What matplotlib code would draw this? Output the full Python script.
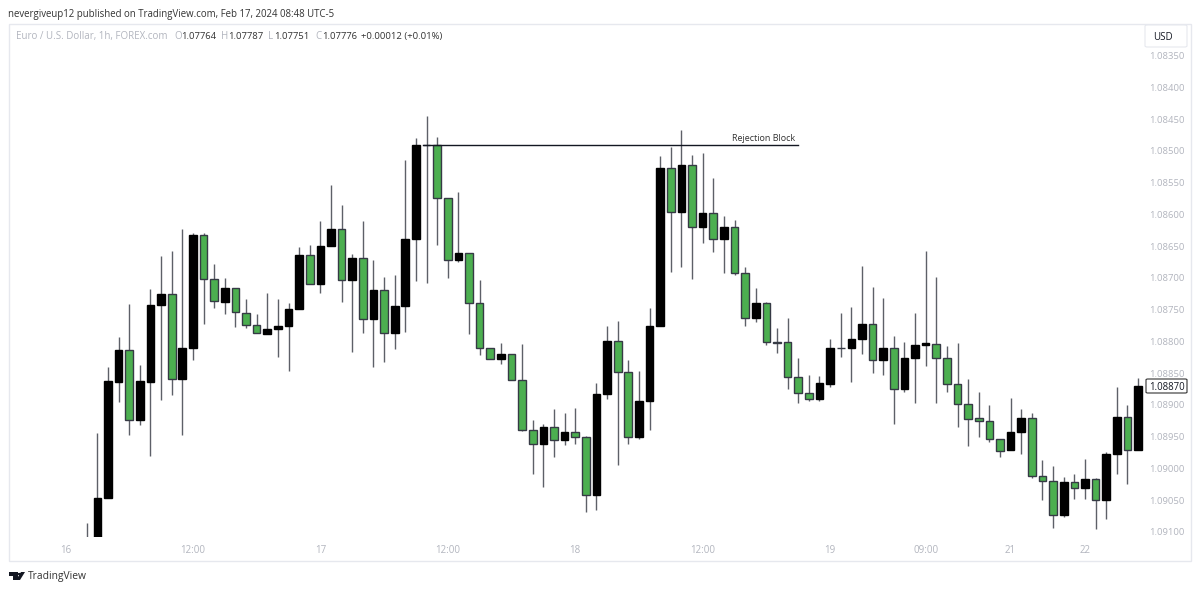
import numpy as np
import matplotlib
matplotlib.use('Agg')
import matplotlib.pyplot as plt
from matplotlib.patches import FancyBboxPatch, Rectangle, Polygon, Circle

plt.rcParams['font.family'] = ['Open Sans', 'DejaVu Sans']

# EUR/USD 1h, prices in 1e-5 units (axis is inverted)
opens = [109129,109113,109047,108864,108813,108924,108864,108742,108725,108859,
         108810,108632,108701,108738,108716,108755,108774,108788,108780,108775,
         108749,108664,108709,108649,108623,108703,108668,108764,108719,108787,
         108744,108638,108490,108490,108574,108671,108660,108739,108810,108827,
         108820,108861,108939,108961,108935,108955,108943,108950,109042,108883,
         108799,108848,108950,108894,108775,108527,108596,108522,108620,108597,
         108638,108620,108692,108763,108739,108801,108801,108856,108881,108891,
         108867,108810,108810,108796,108772,108829,108810,108875,108826,108806,
         108804,108826,108867,108898,108921,108925,108954,108971,108943,108921,
         109012,109020,109073,109021,109031,109017,109050,108977,108919,108971]
highs = [109129,109113,109047,108895,108947,108932,108980,108892,108884,108947,
         108829,108772,108747,108757,108777,108779,108787,108788,108824,108846,
         108749,108709,108723,108649,108738,108816,108787,108840,108832,108812,
         108785,108705,108708,108648,108700,108675,108788,108821,108827,108835,
         108861,108941,109009,109029,108982,108963,108961,109069,109065,108891,
         108995,108961,108954,108939,108775,108690,108683,108701,108645,108659,
         108692,108695,108775,108769,108805,108818,108875,108897,108894,108894,
         108872,108824,108864,108820,108850,108853,108930,108879,108897,108839,
         108897,108879,108935,108965,108950,108958,108982,108971,108977,109015,
         109050,109094,109077,109048,109048,109095,109080,109009,109024,108971]
lows = [109086,108944,108840,108793,108741,108837,108717,108665,108657,108623,
        108629,108629,108678,108700,108716,108733,108757,108723,108733,108739,
        108651,108648,108610,108553,108585,108662,108610,108671,108698,108695,
        108514,108479,108445,108478,108574,108564,108660,108703,108810,108802,
        108820,108804,108924,108930,108906,108913,108905,108949,108865,108775,
        108768,108829,108846,108747,108508,108493,108467,108506,108503,108542,
        108602,108608,108683,108716,108738,108779,108763,108826,108853,108854,
        108796,108755,108746,108681,108714,108731,108791,108801,108755,108657,
        108698,108807,108802,108859,108879,108900,108954,108889,108906,108913,
        108987,108996,109013,109009,108985,109015,108974,108872,108900,108857]
closes = [109113,109047,108862,108813,108924,108862,108742,108725,108859,108810,
          108632,108701,108736,108716,108753,108774,108787,108780,108775,108749,
          108664,108709,108649,108623,108703,108668,108764,108719,108787,108744,
          108638,108490,108491,108574,108671,108660,108739,108810,108827,108820,
          108861,108939,108961,108935,108955,108943,108950,109042,108883,108799,
          108848,108950,108894,108775,108527,108596,108522,108620,108597,108638,
          108620,108692,108763,108739,108801,108802,108856,108881,108891,108865,
          108810,108811,108796,108772,108829,108810,108875,108826,108805,108803,
          108826,108867,108898,108922,108925,108954,108972,108943,108921,109012,
          109020,109073,109021,109031,109017,109050,108977,108919,108971,108870]

time_pos = [-2, 10, 22, 34, 46, 58, 70, 79, 87, 94]
time_labels = ['16', '12:00', '17', '12:00', '18', '12:00', '19', '09:00', '21', '22']
price_ticks = [1.0835, 1.084, 1.0845, 1.085, 1.0855, 1.086, 1.0865, 1.087,
               1.0875, 1.088, 1.0885, 1.089, 1.0895, 1.09, 1.0905, 1.091]
last_price = 1.0887
block_price = 1.0849

def fx(x):
    return x / 1200

def fy(y):
    return 1 - y / 590

fig = plt.figure(figsize=(12, 5.9), dpi=100)

# outer frame
fig.add_artist(Rectangle((fx(8.5), fy(560.5)), fx(1182), 537 / 590, transform=fig.transFigure,
                         fc='white', ec='#e6e8ee', lw=1, zorder=-1))

ax = fig.add_axes([fx(9), fy(537), fx(1135), 513 / 590])
ax.patch.set_alpha(0)
for s in ax.spines.values():
    s.set_visible(False)

o = np.array(opens) / 1e5
h = np.array(highs) / 1e5
l = np.array(lows) / 1e5
c = np.array(closes) / 1e5
x = np.arange(len(o))

ax.vlines(x, l, h, color='#5d6068', lw=1, zorder=2)
cols = ['black' if a > b else '#4caf50' for a, b in zip(o, c)]
edges = ['black' if a > b else '#363a45' for a, b in zip(o, c)]
ax.bar(x, np.abs(c - o), bottom=np.minimum(o, c), width=0.72, color=cols, edgecolor=edges, lw=1, zorder=3)

ax.set_xlim(-7.32, 99.56)
ax.set_ylim(1.09108, 1.08300)

# rejection block line
ax.plot([31.7, 67], [block_price, block_price], color='#131722', lw=1, zorder=4)
ax.text(66.75, block_price - 0.00003, 'Rejection Block', ha='right', va='bottom', fontsize=6.5, color='#333333')

ax.yaxis.tick_right()
ax.set_yticks(price_ticks)
ax.set_yticklabels(['%.5f' % p for p in price_ticks])
ax.tick_params(axis='y', length=0, pad=3.5, labelsize=6.8, labelcolor='#b2b5be')
ax.set_xticks(time_pos)
ax.set_xticklabels(time_labels)
ax.tick_params(axis='x', length=0, pad=6, labelsize=7, labelcolor='#b2b5be')

# last price tag
fig.add_artist(FancyBboxPatch((fx(1146), fy(393)), fx(41), 14 / 590, transform=fig.transFigure,
                              boxstyle='round,pad=0,rounding_size=0.0015', fc='white', ec='#333333', lw=0.8, zorder=2.5))
fig.text(fx(1149), fy(387.5), '%.5f' % last_price, fontsize=6.9, color='#131722', va='center', zorder=3)
fig.add_artist(FancyBboxPatch((fx(1145), fy(47)), fx(42), 22 / 590, transform=fig.transFigure,
                              boxstyle='round,pad=0,rounding_size=0.002', fc='white', ec='#e6e8ee', lw=0.8))
fig.text(fx(1153), fy(37.5), 'USD', fontsize=7, color='#131722', va='center')

# header texts
fig.text(fx(8), fy(14.5), 'nevergiveup12 published on TradingView.com, Feb 17, 2024 08:48 UTC-5',
         fontsize=6.9, color='#333333', va='center')
fig.text(fx(16), fy(36.5), 'Euro / U.S. Dollar, 1h, FOREX.com', fontsize=7, color='#b2b5be', va='center')
for xp, t in [(174, 'O'), (221, 'H'), (268, 'L'), (315, 'C')]:
    fig.text(fx(xp), fy(36.5), t, fontsize=7, color='#b2b5be', va='center')
for xp, t in [(181, '1.07764'), (228, '1.07787'), (274, '1.07751'), (322, '1.07776'), (361, '+0.00012 (+0.01%)')]:
    fig.text(fx(xp), fy(36.5), t, fontsize=6.8, color='#333333', va='center')

# TradingView logo
logo = [[(9, 572), (18, 572), (18, 580), (13, 580), (13, 576), (9, 576)],
        [(21, 572), (25, 572), (20, 580), (16, 580)]]
for pts in logo:
    fig.add_artist(Polygon([(fx(a), fy(b)) for a, b in pts], transform=fig.transFigure, fc='#131722', ec='none'))
fig.add_artist(Circle((fx(19.5), fy(574)), 0.0019, transform=fig.transFigure, fc='#131722', ec='none'))
fig.text(fx(28), fy(577), 'TradingView', fontsize=7.4, color='#333333', va='center')

fig.savefig('out.png', dpi=100)
